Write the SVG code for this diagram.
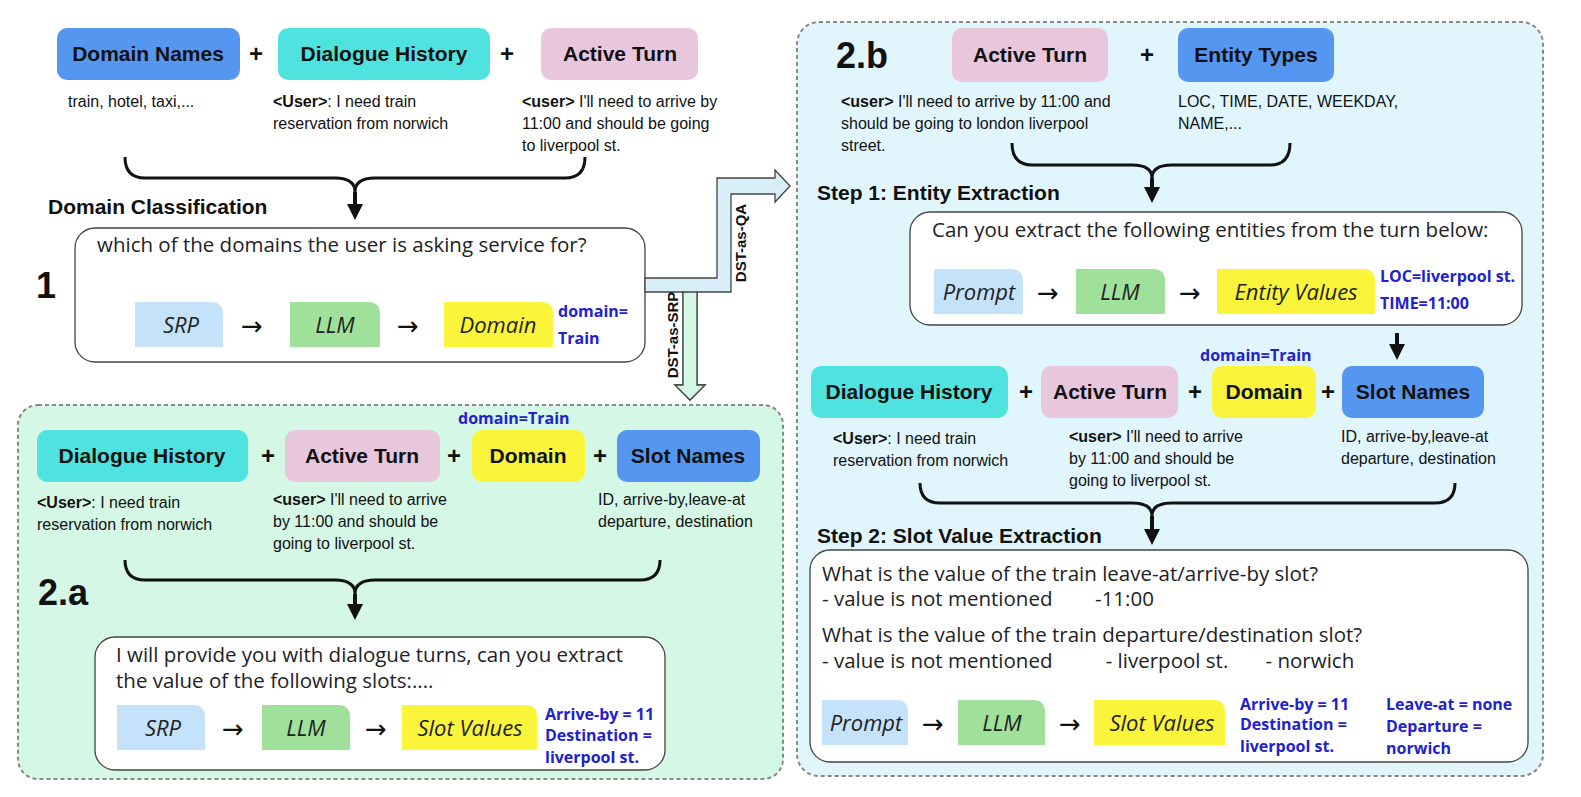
<svg xmlns="http://www.w3.org/2000/svg" width="1581" height="797" viewBox="0 0 1581 797">
<style>
.pill{stroke:none}
.pt{font-family:"Liberation Sans",Arial,sans-serif;font-weight:bold;font-size:21px;fill:#111;text-anchor:middle}
.plus{font-family:"Liberation Sans",Arial,sans-serif;font-weight:bold;font-size:24px;fill:#111;text-anchor:middle}
.sm{font-family:"Liberation Sans",Arial,sans-serif;font-size:16px;fill:#111}
.hd{font-family:"Liberation Sans",Arial,sans-serif;font-weight:bold;font-size:21px;fill:#111}
.big{font-family:"Liberation Sans",Arial,sans-serif;font-weight:bold;font-size:36px;fill:#111}
.q{font-family:"Open Sans",sans-serif;font-size:20.5px;fill:#222}
.it{font-family:"Open Sans",sans-serif;font-style:italic;font-size:22px;fill:#222;text-anchor:middle}
.ar{font-family:"DejaVu Sans",sans-serif;font-size:26px;fill:#111;text-anchor:middle}
.bl{font-family:"Open Sans",sans-serif;font-weight:bold;font-size:16px;fill:#2222cc}
.brace{fill:none;stroke:#111;stroke-width:3}
.box{fill:#fff;stroke:#444;stroke-width:1.3}
.panel{stroke:#888;stroke-width:2;stroke-dasharray:4 3}
.cy{fill:#4fe3e0}.pk{fill:#e8c6dc}.bu{fill:#5596f0}.ye{fill:#faf53a}
.lb{fill:#c4e3fb}.gr{fill:#9fe09a}
.rot{font-family:"Liberation Sans",Arial,sans-serif;font-weight:bold;font-size:15px;fill:#111;text-anchor:middle}
</style>
<defs>
<marker id="ah" viewBox="0 0 10 10" refX="5" refY="5" markerWidth="4" markerHeight="4" orient="auto"><path d="M0,0 L10,5 L0,10 z" fill="#111"/></marker>
</defs>
<rect class="panel" x="18" y="405" width="765" height="374" rx="20" fill="#d4f7e6"/>
<rect class="panel" x="797" y="22" width="746" height="754" rx="22" fill="#e1f5fd"/>

<g id="top-inputs">
<rect class="pill bu" x="57" y="28" width="183" height="52" rx="10"/><text class="pt" x="148" y="61">Domain Names</text>
<text class="plus" x="256" y="62">+</text>
<rect class="pill cy" x="278" y="28" width="212" height="52" rx="10"/><text class="pt" x="384" y="61">Dialogue History</text>
<text class="plus" x="507" y="62">+</text>
<rect class="pill pk" x="541" y="28" width="157" height="52" rx="10"/><text class="pt" x="620" y="61">Active Turn</text>
<text class="sm" x="68" y="107">train, hotel, taxi,...</text>
<text class="sm" x="273" y="107"><tspan font-weight="bold">&lt;User&gt;</tspan>: I need train</text>
<text class="sm" x="273" y="129">reservation from norwich</text>
<text class="sm" x="522" y="107"><tspan font-weight="bold">&lt;user&gt;</tspan> I'll need to arrive by</text>
<text class="sm" x="522" y="129">11:00 and should be going</text>
<text class="sm" x="522" y="151">to liverpool st.</text>
<path class="brace" d="M125,157 Q125,178 145,178 L335,178 Q355,178 355,192 Q355,178 375,178 L565,178 Q585,178 585,157"/>
<line x1="355" y1="192" x2="355" y2="212" stroke="#111" stroke-width="4" marker-end="url(#ah)"/>
</g>
<text class="hd" x="48" y="214">Domain Classification</text>
<text class="big" x="36" y="298">1</text>
<g id="domain-box">
<rect class="box" x="75" y="228" width="570" height="134" rx="20"/>
<text class="q" x="97" y="252">which of the domains the user is asking service for?</text>
<path class="lb" d="M135,302 H211 Q223,302 223,314 V347 H135 Z"/><text class="it" x="181" y="333">SRP</text>
<text class="ar" x="252" y="335">→</text>
<path class="gr" d="M290,302 H368 Q380,302 380,314 V347 H290 Z"/><text class="it" x="335" y="333">LLM</text>
<text class="ar" x="408" y="335">→</text>
<path class="ye" d="M444,302 H541 Q553,302 553,314 V347 H444 Z"/><text class="it" x="498" y="333">Domain</text>
<text class="bl" x="558" y="317" font-size="17">domain=</text>
<text class="bl" x="558" y="344" font-size="17">Train</text>
</g>
<g id="connectors">
<path d="M645,278 H717 V178 H775 V170 L790,186 L775,202 V194 H731 V292 H697 V385 H705 L690,400 L675,385 H683 V292 H645 Z" fill="#d8eef8" stroke="#444" stroke-width="1.3"/>
<path d="M683,292 V385 H675 L690,400 L705,385 H697 V292 Z" fill="#d4f7e6" stroke="#444" stroke-width="1.3"/>
<text class="rot" transform="translate(746,243) rotate(-90)">DST-as-QA</text>
<text class="rot" transform="translate(678,335) rotate(-90)">DST-as-SRP</text>
</g>

<g id="srp-inputs">
<text class="bl" x="458" y="424" font-size="17">domain=Train</text>
<rect class="pill cy" x="37" y="430" width="211" height="52" rx="10"/><text class="pt" x="142" y="463">Dialogue History</text>
<text class="plus" x="268" y="464">+</text>
<rect class="pill pk" x="285" y="430" width="155" height="52" rx="10"/><text class="pt" x="362" y="463">Active Turn</text>
<text class="plus" x="454" y="464">+</text>
<rect class="pill ye" x="472" y="430" width="113" height="52" rx="10"/><text class="pt" x="528" y="463">Domain</text>
<text class="plus" x="600" y="464">+</text>
<rect class="pill bu" x="617" y="430" width="143" height="52" rx="10"/><text class="pt" x="688" y="463">Slot Names</text>
<text class="sm" x="37" y="508"><tspan font-weight="bold">&lt;User&gt;</tspan>: I need train</text>
<text class="sm" x="37" y="530">reservation from norwich</text>
<text class="sm" x="273" y="505"><tspan font-weight="bold">&lt;user&gt;</tspan> I'll need to arrive</text>
<text class="sm" x="273" y="527">by 11:00 and should be</text>
<text class="sm" x="273" y="549">going to liverpool st.</text>
<text class="sm" x="598" y="505">ID, arrive-by,leave-at</text>
<text class="sm" x="598" y="527">departure, destination</text>
<path class="brace" d="M125,560 Q125,580 145,580 L335,580 Q355,580 355,594 Q355,580 375,580 L640,580 Q660,580 660,560"/>
<line x1="355" y1="594" x2="355" y2="612" stroke="#111" stroke-width="4" marker-end="url(#ah)"/>
</g>
<text class="big" x="38" y="605">2.a</text>
<g id="srp-box">
<rect class="box" x="95" y="637" width="570" height="133" rx="20"/>
<text class="q" x="116" y="662">I will provide you with dialogue turns, can you extract</text>
<text class="q" x="116" y="688">the value of the following slots:....</text>
<path class="lb" d="M117,705 H193 Q205,705 205,717 V750 H117 Z"/><text class="it" x="163" y="736">SRP</text>
<text class="ar" x="233" y="738">→</text>
<path class="gr" d="M262,705 H338 Q350,705 350,717 V750 H262 Z"/><text class="it" x="306" y="736">LLM</text>
<text class="ar" x="376" y="738">→</text>
<path class="ye" d="M402,705 H525 Q537,705 537,717 V750 H402 Z"/><text class="it" x="470" y="736">Slot Values</text>
<text class="bl" x="545" y="720">Arrive-by = 11</text>
<text class="bl" x="545" y="741">Destination =</text>
<text class="bl" x="545" y="763">liverpool st.</text>
</g>

<text class="big" x="836" y="68">2.b</text>
<g id="qa-inputs">
<rect class="pill pk" x="952" y="28" width="156" height="54" rx="10"/><text class="pt" x="1030" y="62">Active Turn</text>
<text class="plus" x="1147" y="63">+</text>
<rect class="pill bu" x="1178" y="28" width="156" height="54" rx="10"/><text class="pt" x="1256" y="62">Entity Types</text>
<text class="sm" x="841" y="107"><tspan font-weight="bold">&lt;user&gt;</tspan> I'll need to arrive by 11:00 and</text>
<text class="sm" x="841" y="129">should be going to london liverpool</text>
<text class="sm" x="841" y="151">street.</text>
<text class="sm" x="1178" y="107">LOC, TIME, DATE, WEEKDAY,</text>
<text class="sm" x="1178" y="129">NAME,...</text>
<path class="brace" d="M1012,143 Q1012,165 1032,165 L1132,165 Q1152,165 1152,178 Q1152,165 1172,165 L1270,165 Q1290,165 1290,143"/>
<line x1="1152" y1="178" x2="1152" y2="195" stroke="#111" stroke-width="4" marker-end="url(#ah)"/>
</g>
<text class="hd" x="817" y="200">Step 1: Entity Extraction</text>
<g id="entity-box">
<rect class="box" x="910" y="212" width="612" height="113" rx="20"/>
<text class="q" x="932" y="237">Can you extract the following entities from the turn below:</text>
<path class="lb" d="M934,269 H1011 Q1023,269 1023,281 V314 H934 Z"/><text class="it" x="979" y="300">Prompt</text>
<text class="ar" x="1048" y="302">→</text>
<path class="gr" d="M1076,269 H1153 Q1165,269 1165,281 V314 H1076 Z"/><text class="it" x="1120" y="300">LLM</text>
<text class="ar" x="1190" y="302">→</text>
<path class="ye" d="M1217,269 H1363 Q1375,269 1375,281 V314 H1217 Z"/><text class="it" x="1296" y="300">Entity Values</text>
<text class="bl" x="1380" y="282" font-size="15">LOC=liverpool st.</text>
<text class="bl" x="1380" y="309" font-size="15">TIME=11:00</text>
</g>
<line x1="1397" y1="333" x2="1397" y2="352" stroke="#111" stroke-width="4" marker-end="url(#ah)"/>
<g id="qa-slot-inputs">
<text class="bl" x="1200" y="361" font-size="17">domain=Train</text>
<rect class="pill cy" x="811" y="366" width="197" height="52" rx="10"/><text class="pt" x="909" y="399">Dialogue History</text>
<text class="plus" x="1026" y="400">+</text>
<rect class="pill pk" x="1041" y="366" width="137" height="52" rx="10"/><text class="pt" x="1110" y="399">Active Turn</text>
<text class="plus" x="1195" y="400">+</text>
<rect class="pill ye" x="1212" y="366" width="104" height="52" rx="10"/><text class="pt" x="1264" y="399">Domain</text>
<text class="plus" x="1328" y="400">+</text>
<rect class="pill bu" x="1342" y="366" width="142" height="52" rx="10"/><text class="pt" x="1413" y="399">Slot Names</text>
<text class="sm" x="833" y="444"><tspan font-weight="bold">&lt;User&gt;</tspan>: I need train</text>
<text class="sm" x="833" y="466">reservation from norwich</text>
<text class="sm" x="1069" y="442"><tspan font-weight="bold">&lt;user&gt;</tspan> I'll need to arrive</text>
<text class="sm" x="1069" y="464">by 11:00 and should be</text>
<text class="sm" x="1069" y="486">going to liverpool st.</text>
<text class="sm" x="1341" y="442">ID, arrive-by,leave-at</text>
<text class="sm" x="1341" y="464">departure, destination</text>
<path class="brace" d="M920,483 Q920,503 940,503 L1132,503 Q1152,503 1152,516 Q1152,503 1172,503 L1435,503 Q1455,503 1455,483"/>
<line x1="1152" y1="516" x2="1152" y2="537" stroke="#111" stroke-width="4" marker-end="url(#ah)"/>
</g>
<text class="hd" x="817" y="543">Step 2: Slot Value Extraction</text>
<g id="slot-box">
<rect class="box" x="810" y="550" width="718" height="212" rx="20"/>
<text class="q" x="822" y="581">What is the value of the train leave-at/arrive-by slot?</text>
<text class="q" x="822" y="606" xml:space="preserve">- value is not mentioned        -11:00</text>
<text class="q" x="822" y="642">What is the value of the train departure/destination slot?</text>
<text class="q" x="822" y="668" xml:space="preserve">- value is not mentioned          - liverpool st.       - norwich</text>
<path class="lb" d="M822,700 H896 Q908,700 908,712 V745 H822 Z"/><text class="it" x="866" y="731">Prompt</text>
<text class="ar" x="933" y="733">→</text>
<path class="gr" d="M958,700 H1033 Q1045,700 1045,712 V745 H958 Z"/><text class="it" x="1002" y="731">LLM</text>
<text class="ar" x="1070" y="733">→</text>
<path class="ye" d="M1094,700 H1213 Q1225,700 1225,712 V745 H1094 Z"/><text class="it" x="1162" y="731">Slot Values</text>
<text class="bl" x="1240" y="710">Arrive-by = 11</text>
<text class="bl" x="1240" y="730">Destination =</text>
<text class="bl" x="1240" y="752">liverpool st.</text>
<text class="bl" x="1386" y="710">Leave-at = none</text>
<text class="bl" x="1386" y="732">Departure =</text>
<text class="bl" x="1386" y="754">norwich</text>
</g>
</svg>
